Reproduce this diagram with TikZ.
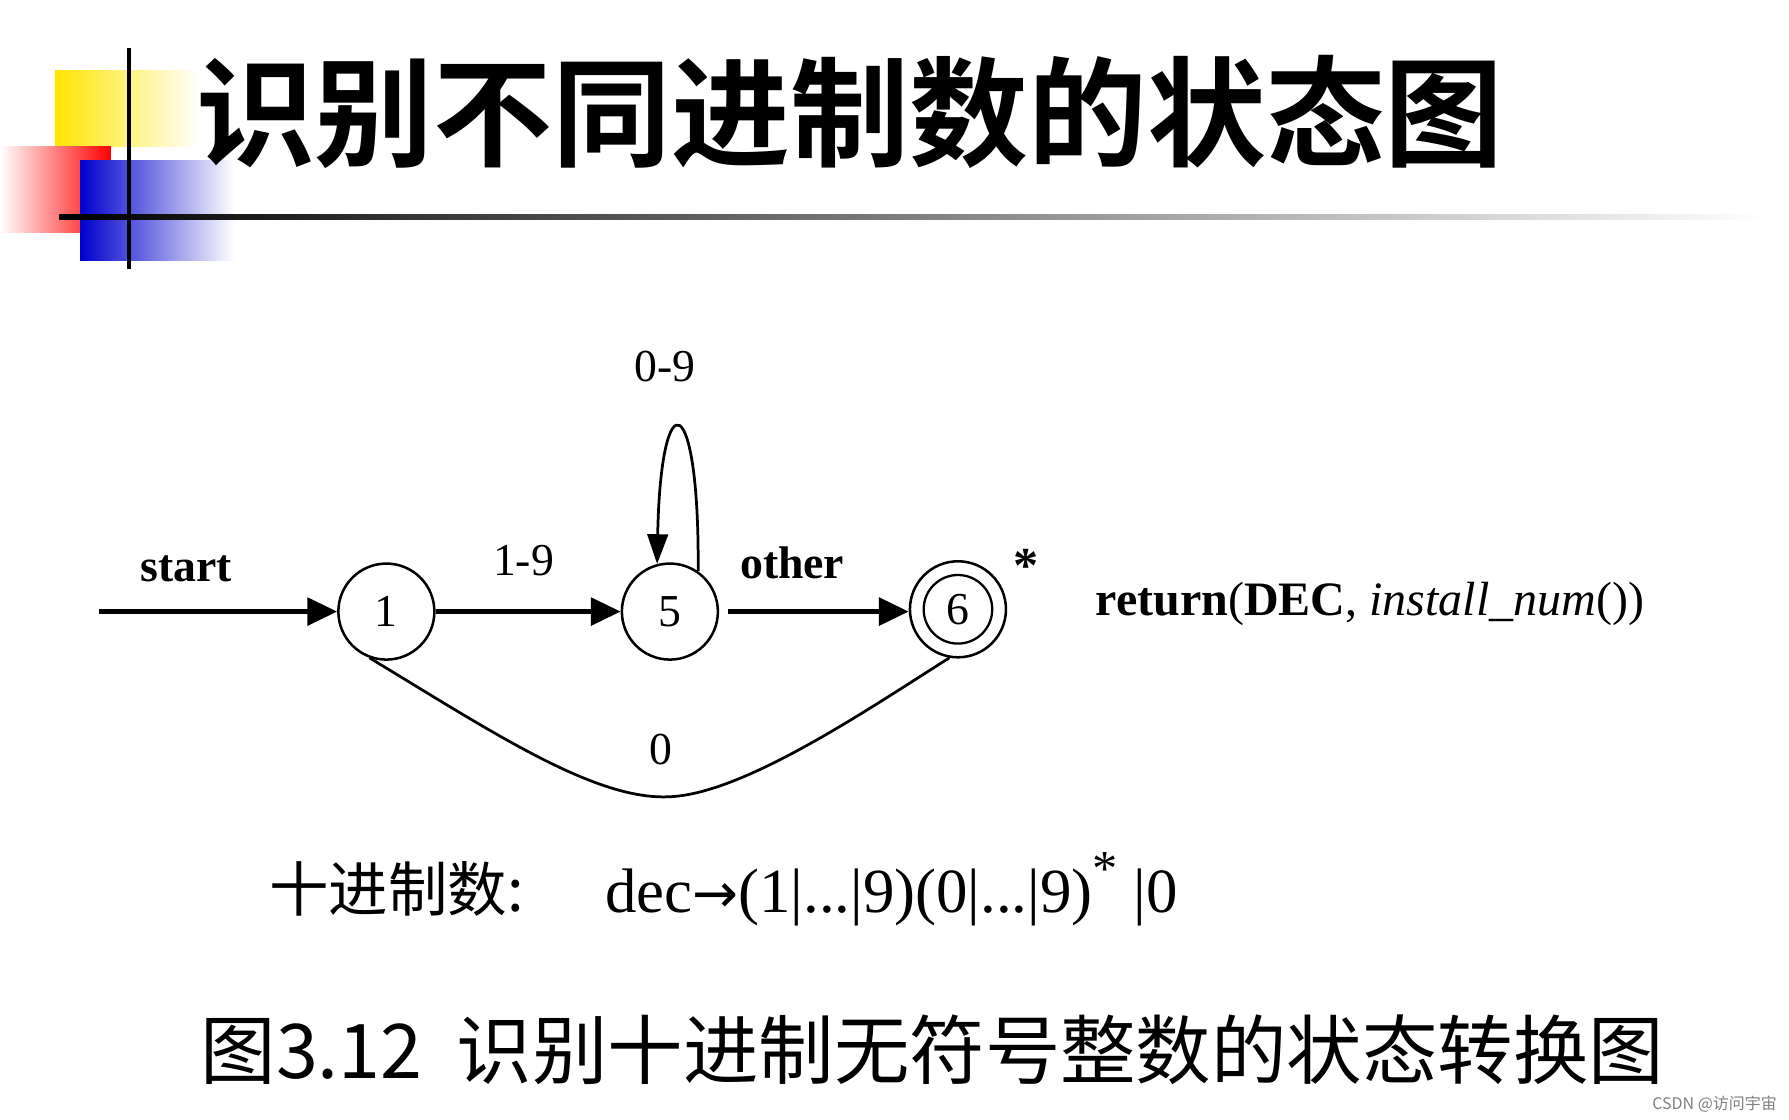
\documentclass[tikz,border=0pt]{standalone}
\usepackage{fontspec}
\setmainfont{Liberation Serif}
\newfontfamily\cjk{Noto Sans CJK SC}
\newfontfamily\cjkb{Noto Sans CJK SC Bold}
\newfontfamily\dejavu{DejaVu Sans}
\usetikzlibrary{arrows.meta}
\begin{document}
\begin{tikzpicture}[x=1pt,y=-1pt,
  st/.style={circle,draw,line width=2.2pt,minimum size=84pt,inner sep=0pt,font=\fontsize{40}{40}\selectfont},
  arr/.style={line width=4pt,-{Triangle[length=26pt,width=24pt]}},
  lab/.style={font=\fontsize{40}{40}\selectfont}]
\useasboundingbox (0,0) rectangle (1565,979);
\fill[white] (0,0) rectangle (1565,979);
% decoration
\shade[left color=yellow!80!orange,right color=white] (48,62) rectangle (175,128);
\shade[left color=white,right color=red] (0,128) rectangle (97,203);
\shade[left color=blue!80!black,right color=white] (70,140) rectangle (205,228);
\shade[left color=black,right color=white] (52,188) rectangle (1545,192);
\draw[line width=3pt] (113,42) -- (113,235);
\node[font=\cjkb\fontsize{104}{104}\selectfont,anchor=west] (title) at (168,98) {识别不同进制数的状态图};
% states
\node[st] (n1) at (338,535) {1};
\node[st] (n5) at (586,535) {5};
\node[st] (n6) at (838,533) {6};
\draw[line width=2pt] (n6) circle (30pt);
\coordinate (s) at (87,535);
\draw[arr] (s) -- (n1);
\node[lab,font=\bfseries\fontsize{40}{40}\selectfont] (lstart) at (163,498) {start};
\draw[arr] (n1) -- (n5);
\node[lab] (l19) at (458,490) {1-9};
\draw[arr] (n5.east) ++(8,0) coordinate (o5) -- (n6.west |- o5);
\node[lab,font=\bfseries\fontsize{40}{40}\selectfont] (lother) at (693,492) {other};
\draw[line width=2.4pt,-{Triangle[length=26pt,width=18pt]}] (n5.55) .. controls (612,340) and (578,330) .. (n5.105);
\node[lab] (l09) at (582,321) {0-9};
\node[font=\bfseries\fontsize{44}{44}\selectfont] (star) at (898,495) {*};
\node[font=\fontsize{42}{42}\selectfont,anchor=west] (ret) at (955,528) {\textbf{return}(\textbf{DEC}, \textit{install\_num}())};
\draw[line width=2.4pt] (n1.250) .. controls (430,640) and (520,700) .. (585,697) .. controls (650,695) and (760,620) .. (n6.260);
\node[lab] (l0) at (578,656) {0};
\node[font=\cjk\fontsize{52}{52}\selectfont,anchor=west] (decl) at (232,778) {十进制数:};
\node[font=\fontsize{55}{55}\selectfont,anchor=west] (dec) at (526,778) {dec{\dejavu\fontsize{48}{48}\selectfont →}(1|...|9)(0|...|9)\raisebox{24pt}{\fontsize{44}{44}\selectfont *} |0};
\node[font=\cjk\fontsize{66}{66}\selectfont,anchor=west] (cap) at (172,918) {图3.12\hspace{30pt}识别十进制无符号整数的状态转换图};
\node[font=\cjk\fontsize{14}{14}\selectfont,text=gray,anchor=east] (wm) at (1558,966) {CSDN @访问宇宙};
\end{tikzpicture}
\end{document}
